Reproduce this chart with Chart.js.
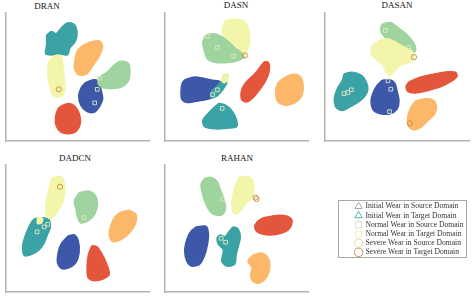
<!DOCTYPE html>
<html lang="en">
<head>
<meta charset="UTF-8">
<title>t-SNE feature clusters</title>
<script src="https://cdn.jsdelivr.net/npm/chart.js"></script>
<style>
    body { margin: 0; background: #fff; width: 474px; height: 299px; position: relative; overflow: hidden; }
    canvas { position: absolute; }
    .ttl { position: absolute; font-family: 'Liberation Serif', 'Times New Roman', serif; font-size: 9px; color: #111; transform: translateX(-50%); line-height: 10px; white-space: nowrap; }
    #legendBox { position: absolute; left: 338px; top: 200px; width: 129px; height: 58px; border: 1px solid #a8a8a8; box-sizing: border-box; }
</style>
</head>
<body>
<div class="ttl" style="left:47px; top:1px;">DRAN</div>
<div class="ttl" style="left:236px; top:0px;">DASN</div>
<div class="ttl" style="left:397px; top:0px;">DASAN</div>
<div class="ttl" style="left:75px; top:153px;">DADCN</div>
<div class="ttl" style="left:237px; top:153px;">RAHAN</div>

<canvas id="p1"></canvas>
<canvas id="p2"></canvas>
<canvas id="p3"></canvas>
<canvas id="p4"></canvas>
<canvas id="p5"></canvas>
<div id="legendBox"><canvas id="lg"></canvas></div>

<script>
// cluster colours (Spectral-like)
const RED = '#e4563c', ORANGE = '#fdb768', YELLOW = '#f3f6aa', GREEN = '#9fd49e', TEAL = '#3ba3a5', BLUE = '#3d58a8';
const SQ = '#dfe8bd', CIRC = '#c8873c';

const legendLabels = ['Initial Wear in Source Domain', 'Initial Wear in Target Domain', 'Normal Wear in Source Domain',
    'Normal Wear in Target Domain', 'Severe Wear in Source Domain', 'Severe Wear in Target Domain'];
const legendStyles = ['triangle', 'triangle', 'rect', 'rect', 'circle', 'circle'];
const legendColors = ['#8fa3a6', '#45a6a8', '#d9dcc6', '#eef0be', '#f1c88f', '#c8844a'];

// ---- DRAN (outline points of each cluster, axis 0..100) ----
const dranTeal = [[28.4,82.6],[31.8,85.6],[35.1,83.9],[38.5,88.1],[43.0,92.1],[47.4,91.3],[49.7,85.1],[48.5,77.7],[44.7,72.7],[43.0,67.2],[36.2,68.2],[31.8,67.2],[27.7,68.2],[28.4,75.2]];
const dranYellow = [[35.1,67.7],[38.5,66.5],[39.6,60.3],[40.7,50.4],[41.2,40.4],[39.6,35.5],[36.2,34.2],[32.9,35.5],[30.6,42.9],[29.1,52.9],[29.5,60.3],[31.8,64.8]];
const dranOrange = [[53.0,73.9],[58.6,77.2],[65.3,78.2],[67.6,73.9],[65.3,66.5],[60.9,59.1],[56.4,52.4],[50.8,51.6],[47.9,56.6],[48.5,65.3],[50.1,70.7]];
const dranGreen = [[65.3,49.9],[70.9,54.1],[75.4,59.1],[79.9,62.3],[85.5,60.8],[86.6,54.1],[85.5,46.7],[81.0,42.4],[74.3,40.9],[67.6,41.7],[64.2,45.4]];
const dranBlue = [[55.3,45.4],[60.9,47.9],[65.3,46.7],[66.4,40.4],[67.6,33.0],[65.3,26.8],[62.0,22.6],[56.4,23.1],[52.3,28.0],[50.8,35.5],[52.6,41.7]];
const dranRed = [[39.6,28.0],[44.1,29.3],[48.5,26.8],[51.5,20.6],[51.9,13.2],[49.2,7.7],[44.1,5.7],[38.5,6.9],[35.1,11.9],[34.7,19.4],[36.7,25.6]];
const dranSquares = [[63.8,40.4],[62.0,29.8],[65.3,49.1]];
const dranCircles = [[36.9,40.4]];

// ---- DASN ----
const dasnYellow = [[42.3,93.8],[48.0,95.0],[54.8,93.8],[58.1,88.8],[59.3,80.0],[58.1,72.5],[55.9,67.5],[50.2,67.5],[46.8,73.8],[42.3,78.8],[40.0,85.0],[40.7,90.5]];
const dasnGreen = [[28.7,83.0],[34.4,83.8],[40.0,81.3],[44.6,77.5],[49.1,72.5],[53.6,68.8],[55.2,65.5],[50.2,62.5],[43.4,61.3],[35.5,61.3],[29.9,63.8],[27.6,70.0],[26.5,77.5]];
const dasnBlue = [[14.0,48.0],[20.8,50.0],[27.6,48.8],[33.3,47.5],[38.5,46.3],[37.8,40.0],[34.4,35.0],[29.9,32.5],[23.1,31.3],[16.3,30.0],[11.8,32.5],[11.3,40.0],[12.2,45.5]];
const dasnTealSmall = [[40.0,47.5],[43.4,46.3],[41.2,41.3],[36.7,35.5],[32.1,33.8],[32.6,38.8],[36.7,43.0]];
const dasnYellowSmall = [[40.7,52.0],[43.9,52.5],[43.9,47.5],[41.2,45.5],[39.4,48.0]];
const dasnRed = [[69.5,62.0],[72.4,61.3],[72.9,55.0],[70.6,47.5],[66.1,40.0],[61.5,33.8],[57.0,30.5],[53.6,32.5],[53.6,40.0],[57.0,46.3],[62.7,52.5],[67.2,58.8]];
const dasnOrange = [[80.8,47.5],[86.4,51.3],[92.1,52.0],[95.5,48.8],[96.6,42.5],[95.5,35.0],[91.0,30.0],[84.2,28.0],[78.5,31.3],[77.4,38.8],[78.5,44.5]];
const dasnTeal = [[37.8,29.5],[42.3,28.0],[46.8,23.8],[49.8,17.5],[50.2,11.3],[43.4,10.0],[35.5,9.5],[27.6,11.3],[26.5,16.3],[29.9,21.3],[34.4,26.3]];
const dasnSquares = [[29.9,81.8],[36.7,73.0],[48.0,66.3],[42.3,50.0],[36.7,40.0],[33.3,36.3],[40.0,25.5]];
const dasnCircles = [[55.9,66.8]];

// ---- DASAN ----
const dasanGreen = [[39.7,91.3],[45.3,92.5],[51.9,87.5],[57.4,82.5],[61.8,76.3],[62.9,70.5],[59.6,68.0],[55.2,70.0],[50.8,73.8],[45.3,78.0],[40.4,82.5],[38.6,87.5]];
const dasanYellow = [[33.1,75.0],[39.7,79.5],[46.4,78.8],[54.1,73.8],[60.7,70.0],[61.8,65.0],[58.5,61.3],[51.9,58.8],[48.6,55.0],[45.3,51.3],[42.6,53.8],[39.7,60.0],[35.3,63.8],[32.0,68.8]];
const dasanTeal = [[13.2,52.5],[18.8,53.8],[25.4,51.3],[28.7,46.3],[29.8,40.0],[27.6,35.0],[24.3,31.3],[18.8,27.5],[12.1,23.8],[7.7,26.3],[6.6,33.8],[8.8,41.3],[12.1,47.5]];
const dasanBlue = [[39.7,47.5],[45.3,48.0],[48.6,45.0],[50.1,38.8],[51.4,31.3],[50.1,25.0],[45.3,21.3],[38.6,21.3],[33.8,23.8],[32.0,31.3],[33.8,38.8],[36.4,43.8]];
const dasanRed = [[58.5,46.3],[65.1,49.5],[74.0,52.0],[82.8,53.8],[90.5,53.8],[91.6,50.5],[87.2,46.3],[80.6,42.5],[71.7,39.5],[62.9,37.5],[57.4,38.8],[56.3,43.0]];
const dasanOrange = [[62.9,31.3],[69.5,33.0],[75.1,32.0],[77.3,27.5],[76.2,21.3],[71.7,16.3],[67.3,11.3],[61.8,8.8],[58.1,11.3],[57.4,18.8],[59.6,26.3]];
const dasanSquares = [[41.9,86.3],[58.1,73.0],[13.2,37.0],[15.9,38.0],[18.3,40.0],[43.7,47.0],[45.7,40.5],[44.8,23.0]];
const dasanCircles = [[61.8,65.5],[58.9,13.8]];

// ---- DADCN ----
const dadcnYellow = [[32.2,89.7],[37.8,91.0],[40.4,87.2],[41.1,79.5],[39.6,70.5],[35.6,62.8],[32.2,58.5],[28.9,59.0],[27.8,66.7],[29.3,76.9],[30.7,84.6]];
const dadcnGreen = [[51.1,78.2],[57.8,79.5],[62.7,75.6],[64.0,69.2],[62.2,61.5],[57.8,56.4],[52.2,54.4],[50.0,59.0],[48.9,65.4],[47.8,71.8]];
const dadcnOrange = [[80.0,62.8],[86.7,64.1],[91.1,60.3],[90.0,52.6],[85.6,45.6],[80.0,41.0],[74.4,39.7],[72.2,44.9],[73.3,52.6],[76.0,59.0]];
const dadcnTeal = [[20.0,57.7],[25.6,58.5],[30.0,56.9],[31.1,51.3],[28.9,44.9],[26.7,38.5],[23.3,33.3],[17.8,29.5],[12.9,28.7],[11.6,35.9],[13.3,43.6],[15.6,50.0],[17.8,55.1]];
const dadcnYellowSmall = [[22.0,58.5],[25.5,58.0],[25.0,54.5],[22.0,54.0]];
const dadcnBlue = [[43.3,44.1],[47.8,44.9],[50.7,39.7],[51.1,30.8],[48.9,23.1],[44.4,19.2],[38.9,18.5],[36.0,23.1],[36.7,32.1],[38.9,38.5]];
const dadcnRed = [[60.0,36.4],[63.3,35.9],[66.7,30.8],[70.0,23.1],[72.2,14.1],[67.8,10.3],[61.1,9.0],[57.3,11.5],[56.7,20.5],[57.6,29.5]];
const dadcnSquares = [[54.4,58.5],[21.8,47.4],[26.7,51.3],[29.3,53.3]];
const dadcnCircles = [[37.8,82.8]];

// ---- RAHAN ----
const rahanGreen = [[27.5,89.2],[31.9,90.3],[36.4,87.2],[38.6,80.8],[40.8,74.4],[42.4,66.7],[40.8,61.5],[36.4,60.3],[31.9,62.8],[28.6,69.2],[26.3,76.9],[25.2,84.6]];
const rahanYellow = [[52.0,90.3],[57.6,91.0],[61.6,87.2],[62.1,79.5],[59.8,73.1],[55.4,67.9],[52.0,62.8],[48.7,61.5],[46.9,66.7],[47.5,75.6],[49.1,83.3]];
const rahanRed = [[68.8,58.5],[77.7,60.3],[85.5,59.7],[88.8,56.4],[87.1,50.0],[81.0,46.2],[73.2,44.9],[65.4,46.7],[62.7,50.8],[64.3,55.1]];
const rahanBlue = [[21.9,51.3],[28.6,51.8],[30.4,46.2],[29.7,37.2],[27.5,28.2],[24.1,21.8],[18.5,20.5],[15.2,24.4],[13.8,33.3],[15.6,42.3],[18.5,48.2]];
const rahanTeal = [[47.5,51.3],[50.9,50.0],[52.7,43.6],[51.3,35.9],[49.8,29.5],[48.7,21.8],[43.1,20.5],[39.7,24.4],[40.8,33.3],[37.5,37.2],[36.4,42.3],[38.6,44.9],[42.0,43.6],[44.6,47.4]];
const rahanOrange = [[62.1,29.5],[67.6,30.8],[72.1,26.9],[73.2,19.2],[71.0,11.5],[66.5,7.2],[62.1,7.7],[59.8,12.8],[60.9,19.2],[58.0,24.4]];
const rahanSquares = [[40.4,73.1],[42.4,39.2],[39.3,42.3]];
const rahanCircles = [[63.2,74.4],[64.0,73.2]];

function poly(pts, color) {
    const data = pts.map(p => ({ x: p[0], y: p[1] }));
    data.push({ x: pts[0][0], y: pts[0][1] });
    return { data, showLine: true, fill: 'shape', backgroundColor: color, borderColor: color,
        borderWidth: 1.4, pointRadius: 0, tension: 0.3 };
}

function marks(pts, style, color) {
    return { data: pts.map(p => ({ x: p[0], y: p[1] })), showLine: false, pointStyle: style,
        pointRadius: 2.6, borderWidth: 0.9, borderColor: color, backgroundColor: 'rgba(0,0,0,0)' };
}

// first dataset is drawn on top
function panel(id, box, datasets) {
    const cv = document.getElementById(id);
    cv.style.left = (box[0] - 2) + 'px';
    cv.style.top = (box[1] - 2) + 'px';
    cv.width = box[2] - box[0] + 4;
    cv.height = box[3] - box[1] + 4;
    const axis = {
        min: 0, max: 100, display: true,
        grid: { display: false, drawTicks: false },
        ticks: { display: false },
        border: { display: true, color: '#b3b3b3', width: 1.5 }
    };
    new Chart(cv, {
        type: 'scatter',
        data: { datasets },
        options: {
            responsive: false, animation: false, events: [],
            layout: { padding: 2 },
            plugins: { legend: { display: false }, tooltip: { enabled: false } },
            scales: { x: axis, y: axis }
        }
    });
}

panel('p1', [3, 10, 152, 144], [
    marks(dranSquares, 'rect', SQ), marks(dranCircles, 'circle', CIRC),
    poly(dranTeal, TEAL), poly(dranYellow, YELLOW), poly(dranOrange, ORANGE),
    poly(dranGreen, GREEN), poly(dranBlue, BLUE), poly(dranRed, RED)
]);
panel('p2', [161.5, 10, 311, 144], [
    marks(dasnSquares, 'rect', SQ), marks(dasnCircles, 'circle', CIRC),
    poly(dasnGreen, GREEN), poly(dasnYellow, YELLOW), poly(dasnYellowSmall, YELLOW), poly(dasnTealSmall, TEAL),
    poly(dasnBlue, BLUE), poly(dasnRed, RED), poly(dasnOrange, ORANGE), poly(dasnTeal, TEAL)
]);
panel('p3', [321.7, 10, 472, 144], [
    marks(dasanSquares, 'rect', SQ), marks(dasanCircles, 'circle', CIRC),
    poly(dasanYellow, YELLOW), poly(dasanGreen, GREEN), poly(dasanTeal, TEAL),
    poly(dasanBlue, BLUE), poly(dasanRed, RED), poly(dasanOrange, ORANGE)
]);
panel('p4', [3, 161.7, 152, 295], [
    marks(dadcnSquares, 'rect', SQ), marks(dadcnCircles, 'circle', CIRC),
    poly(dadcnYellowSmall, YELLOW), poly(dadcnYellow, YELLOW), poly(dadcnGreen, GREEN), poly(dadcnOrange, ORANGE),
    poly(dadcnTeal, TEAL), poly(dadcnBlue, BLUE), poly(dadcnRed, RED)
]);
panel('p5', [161.7, 161.7, 311, 295.5], [
    marks(rahanSquares, 'rect', SQ), marks(rahanCircles, 'circle', CIRC),
    poly(rahanGreen, GREEN), poly(rahanYellow, YELLOW), poly(rahanRed, RED),
    poly(rahanBlue, BLUE), poly(rahanTeal, TEAL), poly(rahanOrange, ORANGE)
]);

// legend-only chart
const lg = document.getElementById('lg');
lg.width = 127; lg.height = 56;
new Chart(lg, {
    type: 'scatter',
    data: {
        datasets: legendLabels.map((label, i) => ({
            label, data: [], pointStyle: legendStyles[i], borderColor: legendColors[i],
            backgroundColor: 'rgba(0,0,0,0)', borderWidth: 0.9, pointRadius: 2.5
        }))
    },
    options: {
        responsive: false, animation: false, events: [],
        layout: { padding: { left: 15, top: 0 } },
        scales: { x: { display: false }, y: { display: false } },
        plugins: {
            tooltip: { enabled: false },
            legend: {
                position: 'top', align: 'start', maxHeight: 60,
                labels: {
                    usePointStyle: true, boxWidth: 6, boxHeight: 6, padding: 1.6,
                    color: '#333', font: { family: "'Liberation Serif', 'Times New Roman', serif", size: 7.6 }
                }
            }
        }
    }
});
</script>
</body>
</html>
